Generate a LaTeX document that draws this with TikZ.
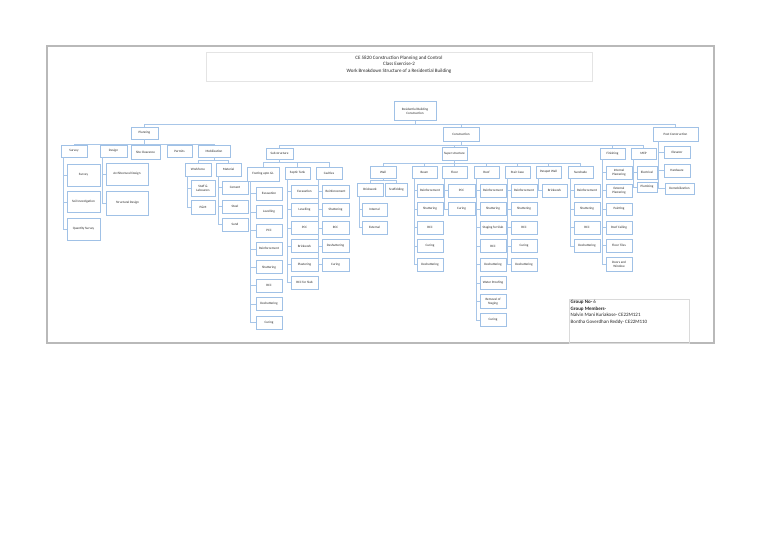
\documentclass[tikz,border=0pt]{standalone}
\usepackage{fontspec}
\setmainfont{Carlito}
\definecolor{bcol}{RGB}{160,193,230}
\definecolor{lcol}{RGB}{168,198,232}
\definecolor{txtc}{RGB}{40,40,40}
\newcommand\bxfont{\fontsize{3.3}{3.8}\selectfont}
\tikzset{
  bx/.style={draw=bcol, fill=white, line width=0.6pt, font=\bxfont, text=txtc, inner sep=0pt, align=center},
  ln/.style={draw=lcol, line width=0.55pt},
}
\newcommand\mkbox[6]{\node[bx, minimum width=#4pt, minimum height=#5pt] (#1) at (#2,#3) {#6};}
\begin{document}
\begin{tikzpicture}[x=1pt,y=-1pt]
\useasboundingbox (0,0) rectangle (768,543);
\fill[white] (0,0) rectangle (768,543);
% frame
\draw[draw={rgb,255:red,185;green,185;blue,185}, line width=1.2pt] (47,46) rectangle (714,343);
% title
\node[draw={rgb,255:red,228;green,228;blue,228}, line width=0.4pt, minimum width=386pt, minimum height=29pt, inner sep=0pt] (titlebox) at (399,66.5) {};
\node[font=\fontsize{5}{6.5}\selectfont, align=center, text=txtc, inner sep=0pt] (title) at (399,64.5) {CE 5820 Construction Planning and Control\\Class Exercise-2\\Work Breakdown Structure of a Residential Building};
% group box
\node[draw={rgb,255:red,218;green,218;blue,218}, line width=0.5pt, minimum width=120pt, minimum height=44pt, inner sep=0pt] (grp) at (629,321) {};
\node[font=\fontsize{5}{6.5}\selectfont, align=left, text=txtc, inner sep=0pt, anchor=north west] (grptext) at (570.5,300) {\textbf{Group No-} 6\\\textbf{Group Members-}\\Nalvin Mani Kuriakose- CE22M121\\Bontha Goverdhan Reddy- CE22M110};

% ---- boxes ----
\mkbox{root}{415}{111}{42}{19}{Residential Building\\Construction}
\mkbox{planning}{144.5}{133}{27}{12}{Planning}
\mkbox{construction}{461}{134}{36}{14}{Construction}
\mkbox{postc}{675.5}{134}{45}{14}{Post Construction}

\mkbox{survey1}{74}{151}{26}{12}{Survey}
\mkbox{design}{113.5}{151}{27}{12}{Design}
\mkbox{siteclear}{145.5}{152.5}{29}{14}{Site Clearance}
\mkbox{permits}{179.5}{151}{25}{12}{Permits}
\mkbox{mobil}{214}{151}{32}{12}{Mobilization}

\mkbox{survey2}{83.5}{175}{33}{22}{Survey}
\mkbox{soil}{83.5}{202}{33}{21}{Soil Investigation}
\mkbox{qsurvey}{83.5}{229}{33}{22}{Quantity Survey}
\mkbox{archd}{127}{174}{42}{22}{Architectural Design}
\mkbox{structd}{127.5}{203}{42}{24}{Structural Design}
\mkbox{workforce}{198}{169.5}{26}{13}{Workforce}
\mkbox{material}{228.5}{169.5}{25}{13}{Material}
\mkbox{staff}{203}{188}{24}{16}{Staff \&\\Labourers}
\mkbox{pam}{203}{207}{24}{14}{P\&M}
\mkbox{cement}{235}{187.5}{26}{13}{Cement}
\mkbox{steel}{235}{206.5}{26}{13}{Steel}
\mkbox{sand}{235}{224.5}{26}{13}{Sand}

\mkbox{substr}{279.5}{153.5}{27}{11}{Sub structure}
\mkbox{superstr}{454.5}{153.5}{25}{13}{Super structure}
\mkbox{finishing}{612.5}{153.5}{25}{11}{Finishing}
\mkbox{mep}{643.5}{153.5}{25}{11}{MEP}

\mkbox{elevator}{677}{152}{26}{12}{Elevator}
\mkbox{hardware}{677}{170.5}{26}{13}{Hardware}
\mkbox{demob}{679.5}{188.5}{29}{11}{Demobilization}
\mkbox{electrical}{647}{172.5}{20}{13}{Electrical}
\mkbox{plumbing}{647}{187}{20}{10}{Plumbing}

\mkbox{intplast}{619}{172.5}{26}{13}{Internal\\Plastering}
\mkbox{extplast}{619}{190.5}{26}{13}{External\\Plastering}
\mkbox{painting}{619}{209}{26}{12}{Painting}
\mkbox{roofceil}{619}{227.5}{26}{13}{Roof Ceiling}
\mkbox{floortiles}{619}{245.5}{26}{13}{Floor Tiles}
\mkbox{doors}{619}{264}{26}{14}{Doors and\\Window}

\mkbox{footing}{263}{174}{32}{14}{Footing upto GL}
\mkbox{septic}{297.5}{173}{25}{12}{Septic Tank}
\mkbox{cavities}{329}{173}{26}{12}{Cavities}

\mkbox{fexc}{269}{193.5}{26}{13}{Excavation}
\mkbox{flev}{269}{211.9}{26}{13}{Levelling}
\mkbox{fpcc}{269}{230.4}{26}{13}{PCC}
\mkbox{freinf}{269}{248.8}{26}{13}{Reinforcement}
\mkbox{fshut}{269}{267.2}{26}{13}{Shuttering}
\mkbox{frcc}{269}{285.7}{26}{13}{RCC}
\mkbox{fdesh}{269}{304.1}{26}{13}{Deshuttering}
\mkbox{fcur}{269}{322.5}{26}{13}{Curing}

\mkbox{sexc}{304.5}{191.5}{27}{13}{Excavation}
\mkbox{slev}{304.5}{209.7}{27}{13}{Levelling}
\mkbox{spcc}{304.5}{227.9}{27}{13}{PCC}
\mkbox{sbrick}{304.5}{246.1}{27}{13}{Brickwork}
\mkbox{splast}{304.5}{264.3}{27}{13}{Plastering}
\mkbox{srcc}{304.5}{282.5}{27}{13}{RCC for Slab}

\mkbox{creinf}{335.5}{191.5}{27}{13}{Reinforcement}
\mkbox{cshut}{335.5}{209.7}{27}{13}{Shuttering}
\mkbox{crcc}{335.5}{227.9}{27}{13}{RCC}
\mkbox{cdesh}{335.5}{246.1}{27}{13}{Deshuttering}
\mkbox{ccur}{335.5}{264.3}{27}{13}{Curing}

\mkbox{wall}{383}{172}{26}{12}{Wall}
\mkbox{beam}{424.5}{172}{25}{12}{Beam}
\mkbox{floor}{454.5}{172}{25}{12}{Floor}
\mkbox{roof}{486.5}{172}{25}{12}{Roof}
\mkbox{stair}{517.5}{172}{25}{12}{Stair Case}
\mkbox{parapet}{548.5}{172}{25}{12}{Parapet Wall}
\mkbox{sunshade}{580.5}{172}{25}{12}{Sunshade}

\mkbox{wbrick}{370}{189.5}{26}{13}{Brickwork}
\mkbox{wscaf}{396.5}{189.5}{22}{13}{Scaffolding}
\mkbox{wint}{374.5}{209.5}{25}{13}{Internal}
\mkbox{wext}{374.5}{227.5}{25}{13}{External}

\mkbox{breinf}{430}{190.5}{26}{13}{Reinforcement}
\mkbox{bshut}{430}{209}{26}{13}{Shuttering}
\mkbox{brcc}{430}{227.5}{26}{13}{RCC}
\mkbox{bcur}{430}{246}{26}{13}{Curing}
\mkbox{bdesh}{430}{264.5}{26}{13}{Deshuttering}

\mkbox{flpcc}{461.5}{190.5}{27}{13}{PCC}
\mkbox{flcur}{461.5}{209}{27}{13}{Curing}

\mkbox{rreinf}{493}{190.5}{26}{13}{Reinforcement}
\mkbox{rshut}{493}{209}{26}{13}{Shuttering}
\mkbox{rstag}{493}{227.5}{26}{13}{Staging for Slab}
\mkbox{rrcc}{493}{246}{26}{13}{RCC}
\mkbox{rdesh}{493}{264.5}{26}{13}{Deshuttering}
\mkbox{rwater}{493}{283}{26}{13}{Water Proofing}
\mkbox{rremov}{493}{301.5}{26}{14}{Removal of\\Staging}
\mkbox{rcur}{493}{320}{26}{13}{Curing}

\mkbox{streinf}{524}{190.5}{26}{13}{Reinforcement}
\mkbox{stshut}{524}{209}{26}{13}{Shuttering}
\mkbox{strcc}{524}{227.5}{26}{13}{RCC}
\mkbox{stcur}{524}{246}{26}{13}{Curing}
\mkbox{stdesh}{524}{264.5}{26}{13}{Deshuttering}

\mkbox{pbrick}{554.5}{190.5}{25}{13}{Brickwork}

\mkbox{sureinf}{587}{190.5}{26}{13}{Reinforcement}
\mkbox{sushut}{587}{209}{26}{13}{Shuttering}
\mkbox{surcc}{587}{227.5}{26}{13}{RCC}
\mkbox{sudesh}{587}{246}{26}{13}{Deshuttering}

% ---- connectors: org style ----
\foreach \c in {planning,construction,postc}
  \draw[ln] (root.south) -- ++(0,3) -| (\c.north);
\foreach \c in {survey1,design,siteclear,permits,mobil}
  \draw[ln] (planning.south) -- ++(0,5) -| (\c.north);
\foreach \c in {workforce,material}
  \draw[ln] (mobil.south) -- ++(0,3) -| (\c.north);
\foreach \c in {substr,superstr,finishing,mep}
  \draw[ln] (construction.south) -- ++(0,4) -| (\c.north);
\foreach \c in {footing,septic,cavities}
  \draw[ln] (substr.south) -- ++(0,3) -| (\c.north);
\foreach \c in {wall,beam,floor,roof,stair,parapet,sunshade}
  \draw[ln] (superstr.south) -- ++(0,3) -| (\c.north);
\foreach \c in {wbrick,wscaf}
  \draw[ln] (wall.south) -- ++(0,2) -| (\c.north);

% ---- connectors: hanging style ----
\foreach \c in {survey2,soil,qsurvey}
  \draw[ln] (survey1.south west) ++(3,0) |- (\c.west);
\foreach \c in {archd,structd}
  \draw[ln] (design.south west) ++(3,0) |- (\c.west);
\foreach \c in {staff,pam}
  \draw[ln] (workforce.south west) ++(3,0) |- (\c.west);
\foreach \c in {cement,steel,sand}
  \draw[ln] (material.south west) ++(3,0) |- (\c.west);
\foreach \c in {elevator,hardware,demob}
  \draw[ln] (postc.south west) ++(6,0) |- (\c.west);
\foreach \c in {electrical,plumbing}
  \draw[ln] (mep.south west) ++(3,0) |- (\c.west);
\foreach \c in {intplast,extplast,painting,roofceil,floortiles,doors}
  \draw[ln] (finishing.south west) ++(3,0) |- (\c.west);
\foreach \c in {fexc,flev,fpcc,freinf,fshut,frcc,fdesh,fcur}
  \draw[ln] (footing.south west) ++(4,0) |- (\c.west);
\foreach \c in {sexc,slev,spcc,sbrick,splast,srcc}
  \draw[ln] (septic.south west) ++(3,0) |- (\c.west);
\foreach \c in {creinf,cshut,crcc,cdesh,ccur}
  \draw[ln] (cavities.south west) ++(3,0) |- (\c.west);
\foreach \c in {wint,wext}
  \draw[ln] (wbrick.south west) ++(3,0) |- (\c.west);
\foreach \c in {breinf,bshut,brcc,bcur,bdesh}
  \draw[ln] (beam.south west) ++(3,0) |- (\c.west);
\foreach \c in {flpcc,flcur}
  \draw[ln] (floor.south west) ++(3,0) |- (\c.west);
\foreach \c in {rreinf,rshut,rstag,rrcc,rdesh,rwater,rremov,rcur}
  \draw[ln] (roof.south west) ++(3,0) |- (\c.west);
\foreach \c in {streinf,stshut,strcc,stcur,stdesh}
  \draw[ln] (stair.south west) ++(3,0) |- (\c.west);
\draw[ln] (parapet.south west) ++(3,0) |- (pbrick.west);
\foreach \c in {sureinf,sushut,surcc,sudesh}
  \draw[ln] (sunshade.south west) ++(3,0) |- (\c.west);
\end{tikzpicture}
\end{document}
